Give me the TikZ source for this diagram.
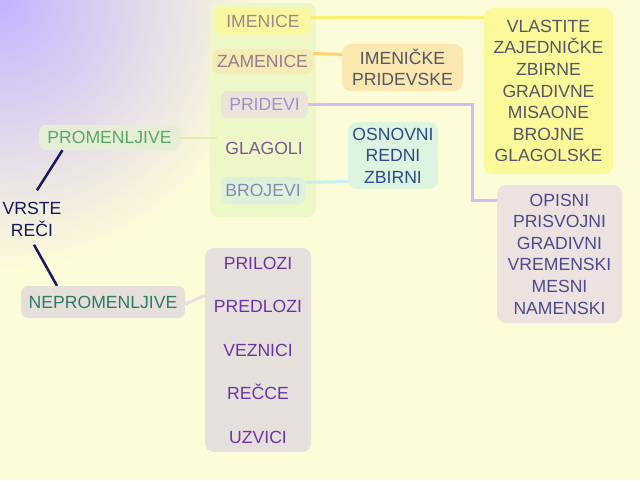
\documentclass[tikz,border=0pt]{standalone}
\usepackage{fontspec}
\setmainfont{Liberation Sans}
\usetikzlibrary{calc}

\definecolor{bgYellow}{HTML}{FDFCD8}
\definecolor{bgPurple}{HTML}{C4B2FF}
\definecolor{grpFill}{HTML}{EEF7C8}
\definecolor{imFill}{HTML}{F9F8A0}
\definecolor{imText}{HTML}{9C8888}
\definecolor{zamFill}{HTML}{F5ECB5}
\definecolor{zamText}{HTML}{9A7A90}
\definecolor{pridFill}{HTML}{EAE4DA}
\definecolor{pridText}{HTML}{A88CC8}
\definecolor{glagText}{HTML}{7A5890}
\definecolor{brojFill}{HTML}{DDF2DC}
\definecolor{brojText}{HTML}{8C88B4}
\definecolor{proFill}{HTML}{E6EFD6}
\definecolor{proText}{HTML}{58A868}
\definecolor{vrText}{HTML}{15185A}
\definecolor{neproFill}{HTML}{E6E0DC}
\definecolor{neproText}{HTML}{2E7A64}
\definecolor{neproListText}{HTML}{6A34A8}
\definecolor{imListFill}{HTML}{FBE8B0}
\definecolor{listText}{HTML}{555566}
\definecolor{brojListFill}{HTML}{DCF4E0}
\definecolor{brojListText}{HTML}{2C4A8C}
\definecolor{vlFill}{HTML}{FCF99A}
\definecolor{opFill}{HTML}{EEE2E0}
\definecolor{opText}{HTML}{4A4A8C}
\definecolor{proLink}{HTML}{D8F0A8}
\definecolor{imLink}{HTML}{F7EF70}
\definecolor{zamLink}{HTML}{FDD36A}
\definecolor{pridLink}{HTML}{D9B8F8}
\definecolor{brojLink}{HTML}{C8F0F0}
\definecolor{neproLink}{HTML}{EADCE4}

\begin{document}
\begin{tikzpicture}[
    x=1pt, y=-1pt,
    word/.style={font=\fontsize{17.6}{21.6}\selectfont, inner sep=0pt},
    pill/.style={word, rounded corners=7pt},
    listbox/.style={word, rounded corners=9pt, align=center},
    link/.style={line width=3pt} % thin pastel connectors
]

% Background
\useasboundingbox (0,0) rectangle (640,480);
\fill[bgYellow] (0,0) rectangle (640,480);
\begin{scope}
  \clip (0,0) rectangle (640,480);
  \shade[inner color=bgPurple, outer color=bgYellow] (0,0) circle (270);
\end{scope}

% Root and two branches
\node[word, align=center, text=vrText] (vr) at (32,219.5) {VRSTE\\REČI};
\node[pill, fill=proFill, text=proText, minimum width=141pt, minimum height=25pt] (pro) at (109.5,137.5) {PROMENLJIVE};
\node[pill, fill=neproFill, text=neproText, minimum width=164pt, minimum height=32pt] (nepro) at (103,302) {NEPROMENLJIVE};

% Connectors (behind the boxes)
\draw[line width=2.5pt, draw=vrText] ([shift={(5pt,12pt)}]vr.north) -- ([xshift=-47pt]pro.south);
\draw[line width=2.5pt, draw=vrText] ([shift={(2pt,-8pt)}]vr.south) -- ([xshift=-46pt]nepro.north);

% Changeable words
\node[listbox, fill=grpFill, minimum width=106pt, minimum height=214pt] (grp) at (263,110) {};
\draw[line width=2pt, draw=proLink] ([xshift=-1pt]pro.east) -- ([xshift=7pt]pro.east -| grp.west);

\node[pill, fill=imFill, text=imText, minimum width=96pt, minimum height=28pt] (im) at (263,21) {IMENICE};
\node[pill, fill=zamFill, text=zamText, minimum width=101pt, minimum height=25pt] (zam) at (262.5,61.5) {ZAMENICE};
\node[pill, fill=pridFill, text=pridText, minimum width=87pt, minimum height=27pt] (prid) at (264.5,104.5) {PRIDEVI};
\node[word, text=glagText] (glag) at (264,148.5) {GLAGOLI};
\node[pill, fill=brojFill, text=brojText, minimum width=84pt, minimum height=27pt] (broj) at (263,190.5) {BROJEVI};

% Kinds of each
\coordinate (bend) at (472,104);
\draw[link, draw=imLink] ([yshift=4pt]im.east) -- (548,17);
\draw[link, draw=zamLink] ([yshift=8pt]zam.east) -- (360,55);
\draw[link, draw=pridLink] (prid.east) -- (prid.east -| bend) |- (520,200);
\draw[link, draw=brojLink] ([yshift=8pt]broj.east) -- (365,181);
\draw[link, draw=neproLink] ([yshift=-2pt]nepro.east) -- (220,289);

\node[listbox, fill=vlFill, text=listText, minimum width=129pt, minimum height=166pt] (vlast) at (548.5,91)
  {VLASTITE\\ZAJEDNIČKE\\ZBIRNE\\GRADIVNE\\MISAONE\\BROJNE\\GLAGOLSKE};
\node[listbox, fill=imListFill, text=listText, minimum width=121pt, minimum height=47pt] (imList) at (402.5,67.5)
  {IMENIČKE\\PRIDEVSKE};
\node[listbox, fill=brojListFill, text=brojListText, minimum width=90pt, minimum height=67pt] (brojList) at (393,155.5)
  {OSNOVNI\\REDNI\\ZBIRNI};
\node[listbox, fill=opFill, text=opText, minimum width=125pt, minimum height=138pt] (opis) at (559.5,254)
  {OPISNI\\PRISVOJNI\\GRADIVNI\\VREMENSKI\\MESNI\\NAMENSKI};

% Unchangeable words
\node[listbox, fill=neproFill, text=neproListText, minimum width=106pt, minimum height=204pt,
  font=\fontsize{17.6}{43.5}\selectfont] (neproList) at (258,350)
  {PRILOZI\\PREDLOZI\\VEZNICI\\REČCE\\UZVICI};

\end{tikzpicture}
\end{document}
